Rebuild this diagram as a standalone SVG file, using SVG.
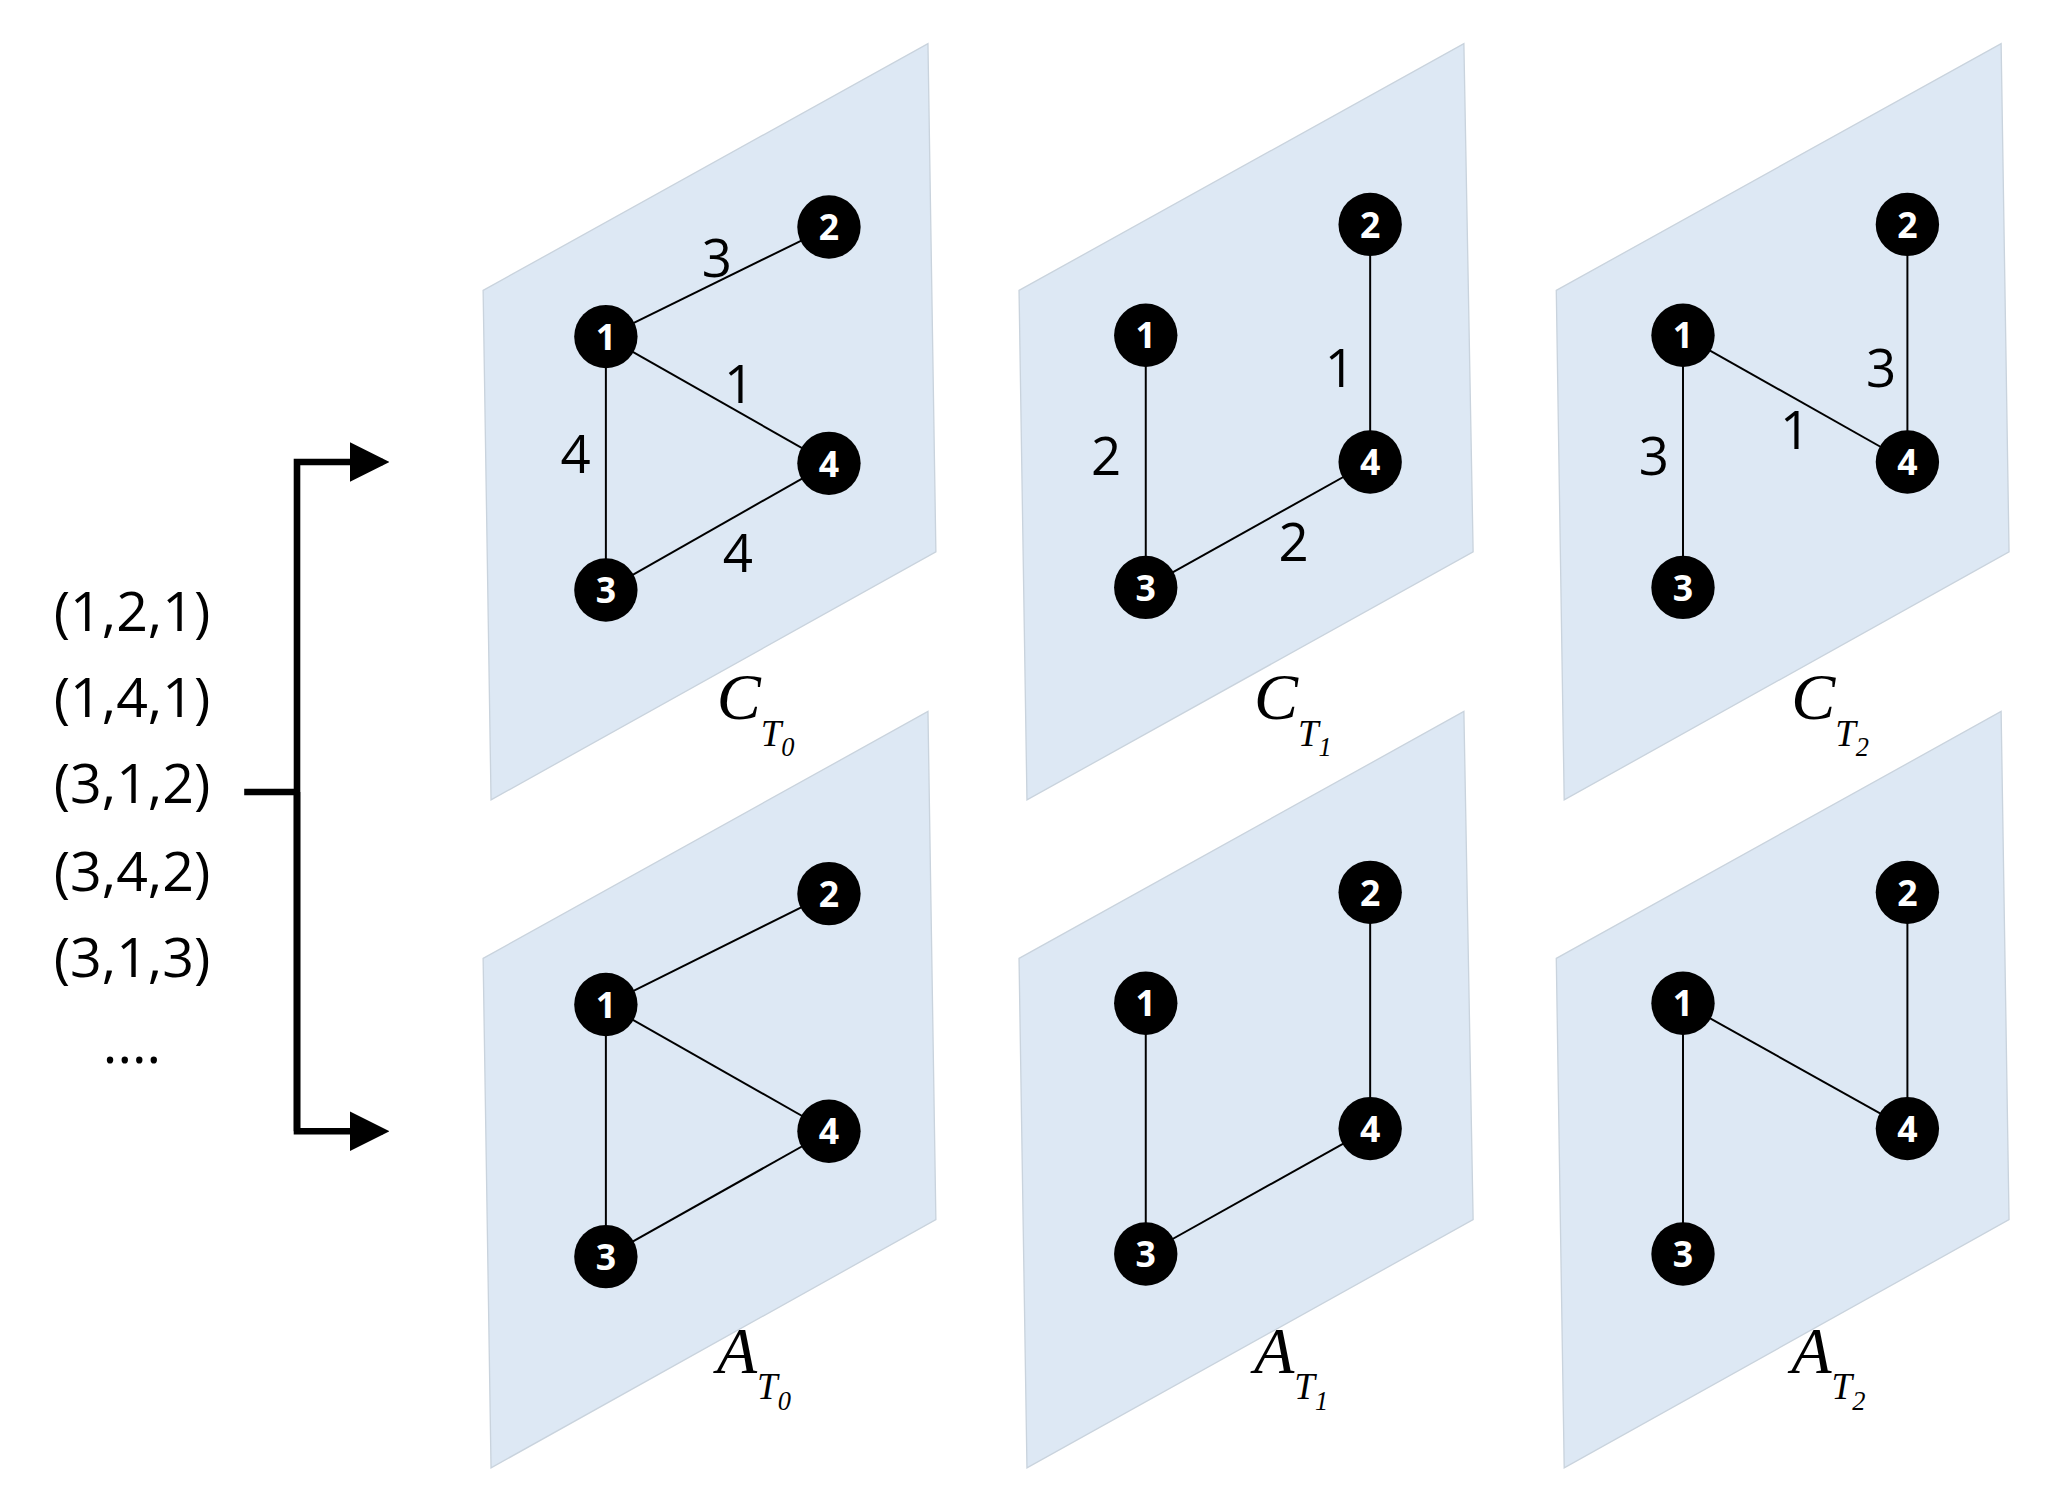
<svg xmlns="http://www.w3.org/2000/svg" width="2046" height="1494" viewBox="0 0 2046 1494">
<style>
.pl{fill:#dde8f4;stroke:#c9d3dd;stroke-width:1}
.e{stroke:#000;stroke-width:1.5}
.n circle{fill:#000}
.n text{fill:#fff;font-family:"Open Sans","Liberation Sans",sans-serif;font-weight:bold;font-size:27px;text-anchor:middle}
.w{font-family:"Open Sans","Liberation Sans",sans-serif;font-size:40px;text-anchor:middle}
.t{font-family:"Open Sans","Liberation Sans",sans-serif;font-size:42px;text-anchor:middle}
.lb{font-family:"Liberation Serif",serif;font-style:italic;font-size:50px}
.sb{font-family:"Liberation Serif",serif;font-style:italic;font-size:28px}
.sd{font-family:"Liberation Serif",serif;font-size:20px}
.br{stroke:#000;stroke-width:5;fill:none}
</style>
<defs>
<marker id="ah" markerWidth="6" markerHeight="6" refX="5" refY="3" orient="auto" markerUnits="strokeWidth"><path d="M0,0 L6,3 L0,6 z" fill="#000"/></marker>
<g id="nd"><circle r="24"/></g>
</defs>
<rect width="2046" height="1494" fill="#fff"/>
<g transform="scale(1.32)">
<g id="planes">
<polygon class="pl" points="366,220 703,33 709,418 372,606"/>
<polygon class="pl" points="772,220 1109,33 1116,418 778,606"/>
<polygon class="pl" points="1179,220 1516,33 1522,418 1185,606"/>
<polygon class="pl" points="366,726 703,539 709,924 372,1112"/>
<polygon class="pl" points="772,726 1109,539 1116,924 778,1112"/>
<polygon class="pl" points="1179,726 1516,539 1522,924 1185,1112"/>
</g>
<g id="connectors">
<line class="e" x1="459" y1="255" x2="628" y2="172"/><line class="e" x1="459" y1="255" x2="628" y2="351"/><line class="e" x1="459" y1="255" x2="459" y2="447"/><line class="e" x1="459" y1="447" x2="628" y2="351"/>
<line class="e" x1="868" y1="254" x2="868" y2="445"/><line class="e" x1="1038" y1="170" x2="1038" y2="350"/><line class="e" x1="868" y1="445" x2="1038" y2="350"/>
<line class="e" x1="1275" y1="254" x2="1275" y2="445"/><line class="e" x1="1445" y1="170" x2="1445" y2="350"/><line class="e" x1="1275" y1="254" x2="1445" y2="350"/>
<line class="e" x1="459" y1="761" x2="628" y2="677"/><line class="e" x1="459" y1="761" x2="628" y2="857"/><line class="e" x1="459" y1="761" x2="459" y2="952"/><line class="e" x1="459" y1="952" x2="628" y2="857"/>
<line class="e" x1="868" y1="760" x2="868" y2="950"/><line class="e" x1="1038" y1="676" x2="1038" y2="855"/><line class="e" x1="868" y1="950" x2="1038" y2="855"/>
<line class="e" x1="1275" y1="760" x2="1275" y2="950"/><line class="e" x1="1445" y1="676" x2="1445" y2="855"/><line class="e" x1="1275" y1="760" x2="1445" y2="855"/>
<polyline class="br" points="185,600 225,600"/>
<polyline class="br" points="225,857 225,350 290,350" marker-end="url(#ah)"/>
<polyline class="br" points="225,600 225,857 290,857" marker-end="url(#ah)"/>
</g>
<g id="nodes">
<g class="n" id="c0n1"><circle cx="459" cy="255" r="24"/><text x="459" y="265">1</text></g>
<g class="n" id="c0n2"><circle cx="628" cy="172" r="24"/><text x="628" y="182">2</text></g>
<g class="n" id="c0n4"><circle cx="628" cy="351" r="24"/><text x="628" y="361">4</text></g>
<g class="n" id="c0n3"><circle cx="459" cy="447" r="24"/><text x="459" y="457">3</text></g>
<g class="n" id="c1n1"><circle cx="868" cy="254" r="24"/><text x="868" y="264">1</text></g>
<g class="n" id="c1n2"><circle cx="1038" cy="170" r="24"/><text x="1038" y="180">2</text></g>
<g class="n" id="c1n4"><circle cx="1038" cy="350" r="24"/><text x="1038" y="360">4</text></g>
<g class="n" id="c1n3"><circle cx="868" cy="445" r="24"/><text x="868" y="455">3</text></g>
<g class="n" id="c2n1"><circle cx="1275" cy="254" r="24"/><text x="1275" y="264">1</text></g>
<g class="n" id="c2n2"><circle cx="1445" cy="170" r="24"/><text x="1445" y="180">2</text></g>
<g class="n" id="c2n4"><circle cx="1445" cy="350" r="24"/><text x="1445" y="360">4</text></g>
<g class="n" id="c2n3"><circle cx="1275" cy="445" r="24"/><text x="1275" y="455">3</text></g>
<g class="n" id="a0n1"><circle cx="459" cy="761" r="24"/><text x="459" y="771">1</text></g>
<g class="n" id="a0n2"><circle cx="628" cy="677" r="24"/><text x="628" y="687">2</text></g>
<g class="n" id="a0n4"><circle cx="628" cy="857" r="24"/><text x="628" y="867">4</text></g>
<g class="n" id="a0n3"><circle cx="459" cy="952" r="24"/><text x="459" y="962">3</text></g>
<g class="n" id="a1n1"><circle cx="868" cy="760" r="24"/><text x="868" y="770">1</text></g>
<g class="n" id="a1n2"><circle cx="1038" cy="676" r="24"/><text x="1038" y="686">2</text></g>
<g class="n" id="a1n4"><circle cx="1038" cy="855" r="24"/><text x="1038" y="865">4</text></g>
<g class="n" id="a1n3"><circle cx="868" cy="950" r="24"/><text x="868" y="960">3</text></g>
<g class="n" id="a2n1"><circle cx="1275" cy="760" r="24"/><text x="1275" y="770">1</text></g>
<g class="n" id="a2n2"><circle cx="1445" cy="676" r="24"/><text x="1445" y="686">2</text></g>
<g class="n" id="a2n4"><circle cx="1445" cy="855" r="24"/><text x="1445" y="865">4</text></g>
<g class="n" id="a2n3"><circle cx="1275" cy="950" r="24"/><text x="1275" y="960">3</text></g>
</g>
<g id="weights">
<text class="w" x="543" y="210">3</text><text class="w" x="560" y="305">1</text><text class="w" x="436" y="358">4</text><text class="w" x="559" y="433">4</text>
<text class="w" x="838" y="360">2</text><text class="w" x="1015" y="293">1</text><text class="w" x="980" y="425">2</text>
<text class="w" x="1253" y="360">3</text><text class="w" x="1360" y="340">1</text><text class="w" x="1425" y="293">3</text>
</g>
<g id="labels">
<text x="543" y="545" class="lb">C<tspan class="sb" dy="20">T</tspan><tspan class="sd" dy="8">0</tspan></text>
<text x="950" y="545" class="lb">C<tspan class="sb" dy="20">T</tspan><tspan class="sd" dy="8">1</tspan></text>
<text x="1357" y="545" class="lb">C<tspan class="sb" dy="20">T</tspan><tspan class="sd" dy="8">2</tspan></text>
<text x="543" y="1040" class="lb">A<tspan class="sb" dy="20">T</tspan><tspan class="sd" dy="8">0</tspan></text>
<text x="950" y="1040" class="lb">A<tspan class="sb" dy="20">T</tspan><tspan class="sd" dy="8">1</tspan></text>
<text x="1357" y="1040" class="lb">A<tspan class="sb" dy="20">T</tspan><tspan class="sd" dy="8">2</tspan></text>
</g>
<g id="list">
<text class="t" x="100" y="478">(1,2,1)</text>
<text class="t" x="100" y="543">(1,4,1)</text>
<text class="t" x="100" y="608">(3,1,2)</text>
<text class="t" x="100" y="675">(3,4,2)</text>
<text class="t" x="100" y="740">(3,1,3)</text>
<text class="t" x="100" y="805">....</text>
</g>
</g>
</svg>
